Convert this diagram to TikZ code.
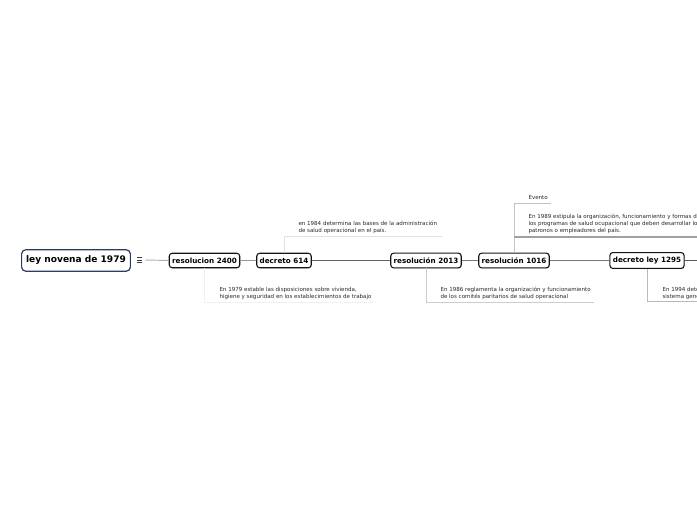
\documentclass[tikz,border=0pt]{standalone}
\usepackage{fontspec}
\setmainfont{DejaVu Sans}
\tikzset{every picture/.style={line width=0.75pt}}
\tikzset{
  topic/.style={draw={rgb, 255:red, 20; green, 20; blue, 20}, fill=white, rounded corners=2.2pt, line width=0.8pt,
    inner xsep=2.2pt, minimum height=10.5pt, font=\fontsize{5.4}{6}\selectfont\bfseries,
    drop shadow={shadow xshift=0.5pt, shadow yshift=-0.5pt, opacity=0.35}},
  notetext/.style={anchor=north west, align=left, inner sep=0pt, font=\fontsize{4.15}{5.2}\selectfont, text={rgb, 255:red, 40; green, 40; blue, 40}},
  branch/.style={draw={rgb, 255:red, 120; green, 120; blue, 120}, line width=0.9pt},
  subline/.style={draw={rgb, 255:red, 225; green, 225; blue, 225}, line width=0.6pt},
}
\usetikzlibrary{shadows}
\begin{document}
\begin{tikzpicture}[x=0.75pt,y=0.75pt,yscale=-1,xscale=1]
	\path[use as bounding box] (0,0) rectangle (697,520);
	\clip (0,0) rectangle (697,520);

	%Central topic
	\draw (76,260.5) node [draw={rgb, 255:red, 45; green, 60; blue, 95}, fill=white, rounded corners=3pt, line width=0.9pt, minimum width=81pt, minimum height=16pt, font=\fontsize{6.8}{7.5}\selectfont\bfseries] (ley) {ley novena de 1979};
	%Shape: menu icon
	\draw [draw={rgb, 255:red, 60; green, 60; blue, 60}, line width=0.5pt] (136.5,257.5) -- (141.5,257.5) (136.5,260) -- (141.5,260) (136.5,262.5) -- (141.5,262.5) ;
	\coordinate (icon) at (145,260);

	% Main topics
	\draw (204.5,260.5) node [topic] (r2400) {resolucion 2400};
	\draw (284,260.5) node [topic] (d614) {decreto 614};
	\draw (426,260.5) node [topic] (r2013) {resolución 2013};
	\draw (514,260.5) node [topic] (r1016) {resolución 1016};
	\draw (647,260.5) node [topic] (d1295) {decreto ley 1295};
	\coordinate (rightend) at (697,260.5);

	%Straight Lines
	\draw [draw={rgb, 255:red, 175; green, 175; blue, 175}, line width=0.7pt] (icon) -- (r2400.west) ;
	\draw [branch, draw={rgb, 255:red, 150; green, 150; blue, 150}] (r2400.east) -- (d614.west) ;
	\draw [branch, draw={rgb, 255:red, 100; green, 100; blue, 100}, line width=1.1pt] (d614.east) -- (r2013.west) ;
	\draw [branch] (r2013.east) -- (r1016.west) ;
	\draw [branch, line width=1.2pt] (r1016.east) -- (d1295.west) ;
	\draw [branch, draw={rgb, 255:red, 90; green, 90; blue, 90}] (d1295.east) -- (rightend) ;

	% Sub topic lines
	\coordinate (n2400end) at (373,302);
	\coordinate (n614end) at (442,236);
	\coordinate (n2013end) at (594,302);
	\coordinate (evEnd) at (551,203);
	\coordinate (n1016end) at (697,237);
	\coordinate (n1295end) at (697,301.5);
	\draw [subline, draw={rgb, 255:red, 240; green, 240; blue, 240}] (r2400.south) |- (n2400end) ;
	\draw [subline] (d614.north) |- (n614end) ;
	\draw [subline, draw={rgb, 255:red, 205; green, 205; blue, 205}] (r2013.south) |- (n2013end) ;
	\draw [subline, draw={rgb, 255:red, 195; green, 195; blue, 195}] (r1016.north) |- (evEnd) ;
	\draw [subline, draw={rgb, 255:red, 160; green, 160; blue, 160}, line width=0.8pt] (r1016.north |- n1016end) -- (n1016end) ;
	\draw [subline, draw={rgb, 255:red, 185; green, 185; blue, 185}] (d1295.south) |- (n1295end) ;

	% Text Node
	\draw (219,286.5) node [notetext] (t2400) {En 1979 estable las disposiciones sobre vivienda,\\higiene y seguridad en los establecimientos de trabajo};
	% Text Node
	\draw (298,221) node [notetext] (t614) {en 1984 determina las bases de la administración\\de salud operacional en el país.};
	% Text Node
	\draw (440,286.5) node [notetext] (t2013) {En 1986 reglamenta la organización y funcionamiento\\de los comités paritarios de salud operacional};
	% Text Node
	\draw (528,194.5) node [notetext] (tev) {Evento};
	% Text Node
	\draw (528,213.5) node [notetext] (t1016) {En 1989 estipula la organización, funcionamiento y formas de\\los programas de salud ocupacional que deben desarrollar los\\patronos o empleadores del país.};
	% Text Node
	\draw (662,286.5) node [notetext] (t1295) {En 1994 determina la organización y administración del\\sistema general de riesgos profesionales};

\end{tikzpicture}
\end{document}
